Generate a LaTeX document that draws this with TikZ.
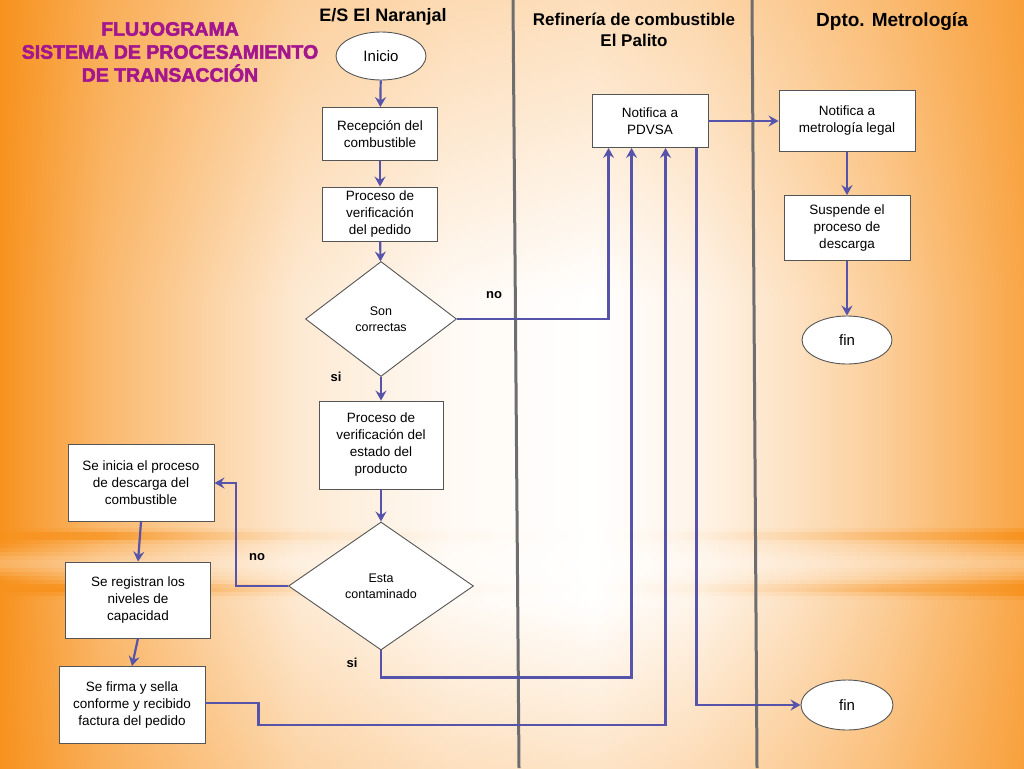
\documentclass[tikz,border=0pt]{standalone}
\usepackage{fontspec}
\setmainfont{Liberation Sans}
\newfontfamily\titlefont[BoldFeatures={FakeBold=2.5}]{Liberation Sans}
\usetikzlibrary{shapes.geometric,arrows.meta}
\definecolor{bgorange}{HTML}{F7921E}
\definecolor{flow}{HTML}{5553AA}
\definecolor{lanec}{HTML}{6E6E70}
\definecolor{titlec}{HTML}{A3168D}
\definecolor{boxborder}{HTML}{555555}
\colorlet{ca}{bgorange}\colorlet{cb}{bgorange}\colorlet{cc}{bgorange}\colorlet{cd}{bgorange}\colorlet{ce}{bgorange}
\colorlet{cf}{white}\colorlet{cg}{bgorange}\colorlet{ch}{bgorange}\colorlet{ci}{bgorange}\colorlet{cj}{bgorange}
% the shaded path spans 25bp..75bp of the shading
\pgfdeclarehorizontalshading[ca,cb,cc,cd,ce,cf,cg,ch,ci,cj]{rowshade}{100bp}{color(0bp)=(ca); color(25bp)=(ca); color(30bp)=(cb); color(34.8bp)=(cc); color(39.5bp)=(cd); color(47bp)=(ce); color(54bp)=(cf); color(59bp)=(cg); color(64bp)=(ch); color(68bp)=(ci); color(75bp)=(cj); color(100bp)=(cj)}
\newcommand\bgmix[2]{%
  \pgfmathsetmacro\tmpo{min(100,max(0,(#2+(100-#2)*\rowT)*(1+\rowS)*(1-\rowG)))}%
  \colorlet{#1}{bgorange!\tmpo!white}}
\tikzset{
  box/.style={draw=boxborder, fill=white, line width=0.9pt, align=center, inner sep=2pt,
    font=\fontsize{13.5}{17}\selectfont},
  oval/.style={box, ellipse, font=\fontsize{15}{18}\selectfont},
  decision/.style={box, diamond, inner sep=0pt, font=\fontsize{12.5}{16}\selectfont},
  flowline/.style={draw=flow, line width=2.2pt, -{Stealth[length=10pt,width=11pt,inset=3.5pt]}},
  lane/.style={draw=lanec, line width=3pt},
  header/.style={align=center},
  lbl/.style={font=\bfseries\fontsize{13}{15}\selectfont},
  ttl/.style={font=\titlefont\bfseries\fontsize{19.5}{23}\selectfont, align=center}
}
\begin{document}
\begin{tikzpicture}[x=1pt,y=-1pt]
\useasboundingbox (0,0) rectangle (1024,768);
% background: rows of horizontal shadings
\foreach \yy in {0,4,...,764}{
  \pgfmathsetmacro\ym{\yy+2}
  \pgfmathsetmacro\rowT{(\ym<300)*0.3*(1-\ym/300) + (\ym>600)*0.25*(\ym-600)/168}
  \pgfmathsetmacro\rowS{0.5*exp(-min(((\ym-536)/5)^2,20)) + 0.6*exp(-min(((\ym-589)/6)^2,20))}
  \pgfmathsetmacro\rowG{0.3*exp(-min(((\ym-563)/12)^2,20))}
  \bgmix{ca}{100}\bgmix{cb}{65}\bgmix{cc}{42}\bgmix{cd}{20}\bgmix{ce}{5}%
  \bgmix{cf}{0}\bgmix{cg}{10}\bgmix{ch}{28}\bgmix{ci}{45}\bgmix{cj}{82}%
  \shade[shading=rowshade] (0,\yy) rectangle (1024,\yy+4.6);
}
% title
\node[ttl, text=titlec] (title) at (170,52) {FLUJOGRAMA\\SISTEMA DE PROCESAMIENTO\\DE TRANSACCIÓN};
% lanes
\draw[lane] (513,0) -- (519,768);
\draw[lane] (752,0) -- (757,768);
% headers
\node[header, font=\bfseries\fontsize{18}{20}\selectfont] (h1) at (383,17) {E/S El Naranjal};
\node[header, font=\bfseries\fontsize{17}{21}\selectfont] (h2) at (634,30) {Refinería de combustible\\El Palito};
\node[header, font=\bfseries\fontsize{19}{20}\selectfont] (h3) at (892,22) {Dpto. Metrología};
% nodes column 1
\node[oval, minimum width=90pt, minimum height=48pt] (ini) at (381,56) {Inicio};
\node[box, minimum width=115pt, minimum height=53pt] (rec) at (380,134) {Recepción del\\combustible};
\node[box, minimum width=115pt, minimum height=54pt] (ver) at (380,214) {Proceso de\\verificación\\del pedido};
\node[decision, minimum width=151pt, minimum height=115pt] (d1) at (381,319) {Son\\correctas};
\node[box, minimum width=124pt, minimum height=88pt] (est) at (381,445) {Proceso de\\verificación del\\estado del\\producto};
\node[decision, minimum width=185pt, minimum height=128pt] (d2) at (381,586) {Esta\\contaminado};
% left column
\node[box, minimum width=146pt, minimum height=77pt] (sin) at (141,483) {Se inicia el proceso\\de descarga del\\combustible};
\node[box, minimum width=145pt, minimum height=76pt] (sre) at (138,600) {Se registran los\\niveles de\\capacidad};
\node[box, minimum width=146pt, minimum height=77pt] (sfi) at (132,705) {Se firma y sella\\conforme y recibido\\factura del pedido};
% refinery
\node[box, minimum width=116pt, minimum height=53pt] (np) at (650,121) {Notifica a\\PDVSA};
% metrologia
\node[box, minimum width=136pt, minimum height=61pt] (nm) at (847,121) {Notifica a\\metrología legal};
\node[box, minimum width=126pt, minimum height=65pt] (sus) at (847,228) {Suspende el\\proceso de\\descarga};
\node[oval, minimum width=90pt, minimum height=48pt] (fin1) at (847,340) {fin};
\node[oval, minimum width=92pt, minimum height=50pt] (fin2) at (847,705) {fin};
% labels
\node[lbl] (lno1) at (494,295) {no};
\node[lbl] (lsi1) at (336,377) {si};
\node[lbl] (lno2) at (257,557) {no};
\node[lbl] (lsi2) at (352,663) {si};
% connectors
\draw[flowline] (ini) -- (rec);
\draw[flowline] (rec) -- (ver);
\draw[flowline] (ver) -- (d1);
\draw[flowline] (d1) -- (est);
\draw[flowline] (est) -- (d2);
\draw[flowline] (d1.east) -| ([xshift=17pt]np.south west);
\draw[flowline] (d2.west) -- ++(-52,0) |- (sin.east);
\draw[flowline] (sin.south) -- (sre.north);
\draw[flowline] (sre.south) -- (sfi.north);
\draw[flowline] (d2.south) -- ++(0,27) -| ([xshift=40pt]np.south west);
\draw[flowline] ([yshift=2pt]sfi.east) -- ++(53,0) -- ++(0,22) -| ([xshift=74pt]np.south west);
\draw[flowline] ([xshift=105pt]np.south west) |- (fin2.west);
\draw[flowline] (np.east) -- (nm.west);
\draw[flowline] (nm) -- (sus);
\draw[flowline] (sus) -- (fin1);
\end{tikzpicture}
\end{document}
